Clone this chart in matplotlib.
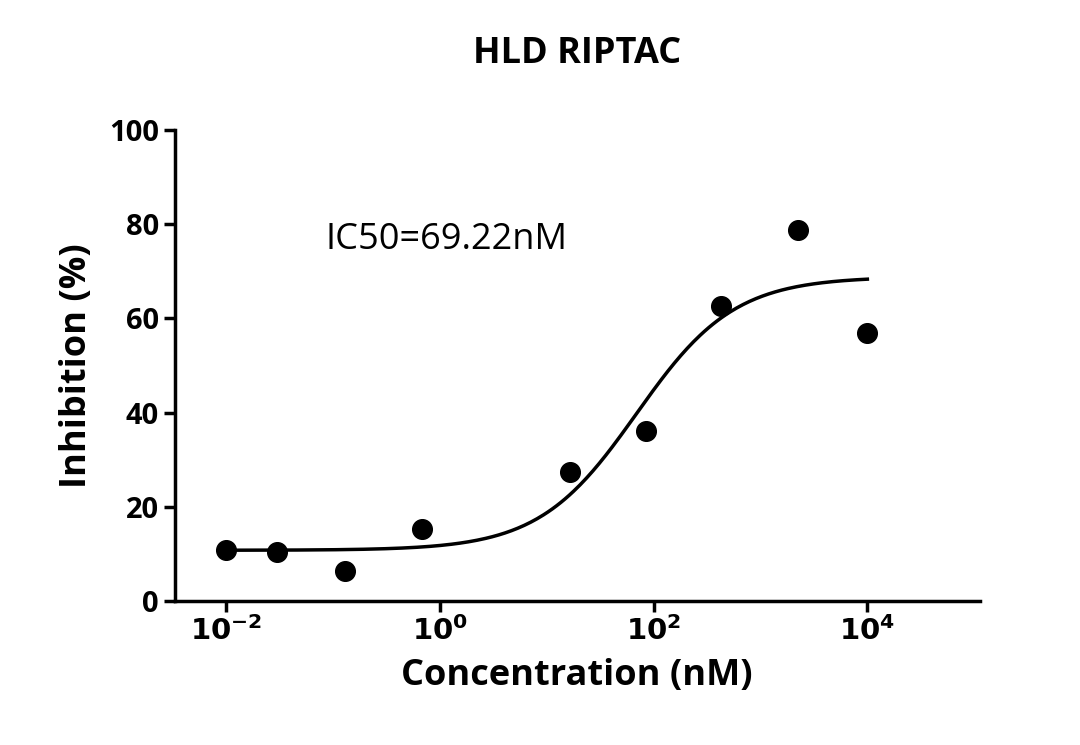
import matplotlib
matplotlib.use('Agg')
import matplotlib.pyplot as plt
import numpy as np

plt.rcParams['font.family'] = ['Open Sans', 'DejaVu Sans']

conc = [0.01, 0.03, 0.13, 0.68, 16.5, 85, 430, 2250, 10000]
inhibition = [10.8, 10.4, 6.4, 15.3, 27.4, 36.1, 62.6, 78.8, 56.9]

# four-parameter logistic fit
bottom, top, ic50, hill = 10.8, 68.8, 69.22, 0.95

fig = plt.figure(figsize=(10.8, 7.45), dpi=100)
ax = fig.add_axes([0.162, 0.193, 0.745, 0.633])

xs = np.logspace(-2, 4, 300)
fit = bottom + (top - bottom) / (1 + (ic50 / xs) ** hill)
ax.plot(xs, fit, color='black', linewidth=2.5)
ax.scatter(conc, inhibition, s=200, color='black', zorder=3)

ax.set_xscale('log')
ax.set_xlim(10 ** -2.48, 10 ** 5.05)
ax.set_ylim(0, 100)
ax.set_xticks([1e-2, 1e0, 1e2, 1e4])
ax.set_xticklabels(['$\\mathbf{10^{-2}}$', '$\\mathbf{10^{0}}$', '$\\mathbf{10^{2}}$', '$\\mathbf{10^{4}}$'])
ax.minorticks_off()
ax.set_yticks([0, 20, 40, 60, 80, 100])

for s in ['top', 'right']:
    ax.spines[s].set_visible(False)
for s in ['left', 'bottom']:
    ax.spines[s].set_linewidth(2.5)
ax.tick_params(width=2.5, length=8, labelsize=21)
for lab in ax.get_yticklabels():
    lab.set_fontweight('bold')

ax.set_xlabel('Concentration (nM)', fontsize=26, fontweight='bold', labelpad=8)
ax.set_ylabel('Inhibition (%)', fontsize=26, fontweight='bold', labelpad=10)
ax.set_title('HLD RIPTAC', fontsize=26, fontweight='bold', pad=48)
ax.text(0.085, 76.5, 'IC50=69.22nM', fontsize=26, va='center')

fig.savefig('out.png', dpi=100)
